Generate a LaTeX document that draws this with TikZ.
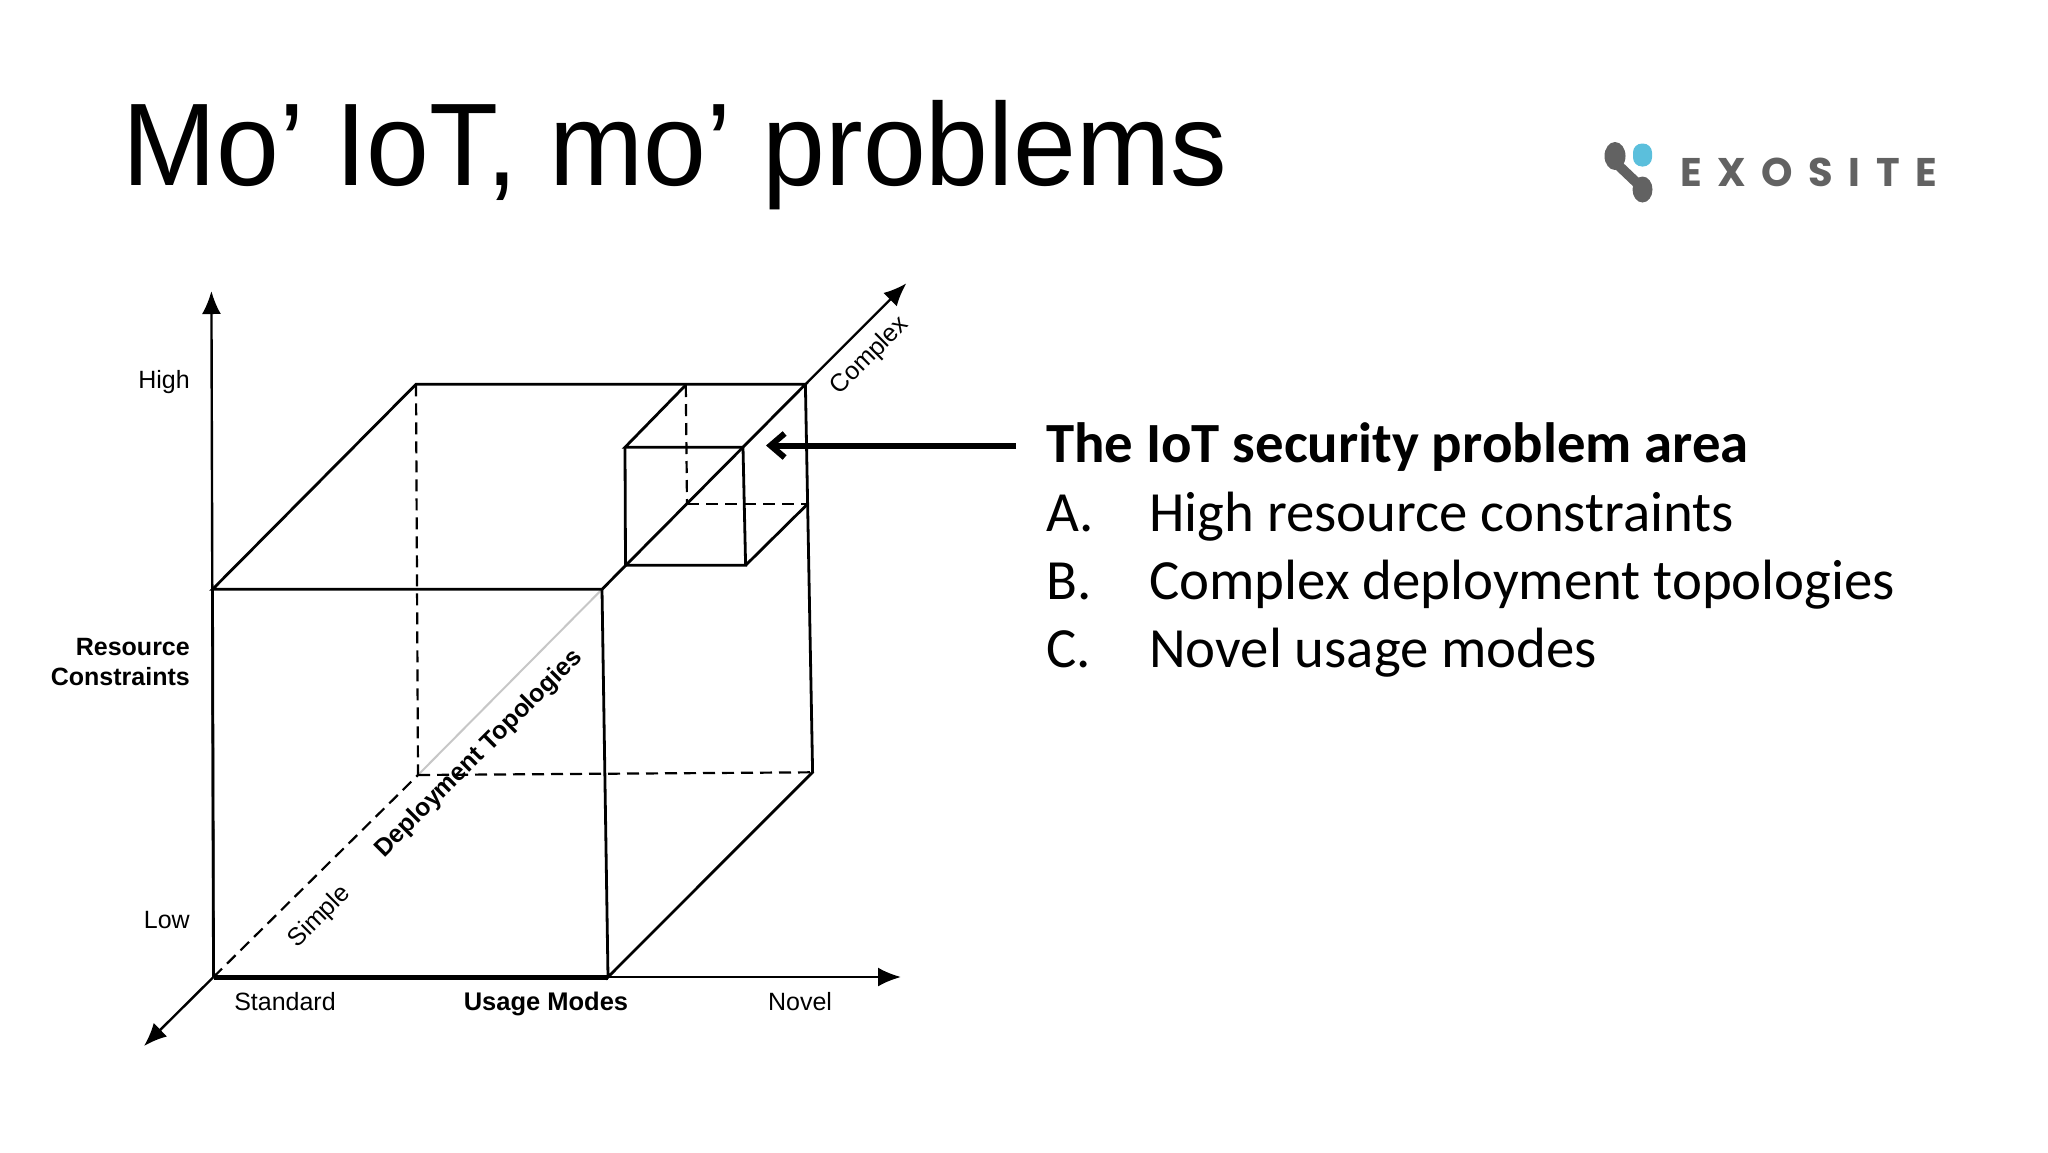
\documentclass[tikz,border=0pt]{standalone}
\usepackage{fontspec}
\usepackage{graphicx}
\usepackage{tikz}
\usetikzlibrary{arrows.meta}
\setmainfont{Liberation Sans}
\newfontfamily\bodyfont{Carlito}
\newfontfamily\logofont[LetterSpace=39]{Poppins}
\definecolor{logogray}{HTML}{626262}
\definecolor{logoblue}{HTML}{5BBFDC}
\tikzset{
    edgeline/.style={draw=black,line width=2.8pt},
    hiddenline/.style={draw=black,line width=2.2pt,dash pattern=on 12pt off 7pt},
    axisline/.style={draw=black,line width=2.4pt,-{Latex[length=23pt,width=19pt]}},
    axislabel/.style={font=\fontsize{25}{30}\selectfont,inner sep=0pt},
    axistitle/.style={font=\fontsize{25}{30}\selectfont\bfseries,inner sep=0pt},
    listlabel/.style={font=\bodyfont\fontsize{56.8}{68}\selectfont,inner sep=0pt,anchor=base west},
}
\begin{document}
\begin{tikzpicture}[x=1pt,y=-1pt]
            \useasboundingbox (0,0) rectangle (2048,1152);

            \node[inner sep=0pt,anchor=base west,font=\fontsize{113}{130}\selectfont] (title) at (122,185.5) {\scalebox{1}[1.04]{Mo’ IoT, mo’ problems}};

            % large cube
            \coordinate (o) at (213.5,977);
            \coordinate (ytop) at (211.4,291);
            \coordinate (xtip) at (901,977);
            \coordinate (ztip) at (144,1046);
            \coordinate (ctip) at (906.4,283.3);
            \coordinate (tfl) at (212.5,589.3);
            \coordinate (tfr) at (602,589.3);
            \coordinate (tbl) at (416,384.3);
            \coordinate (tbr) at (805.4,384.3);
            \coordinate (bfr) at (608,977);
            \coordinate (bbl) at (418,775);
            \coordinate (bbr) at (812.6,772.3);

            % small cube
            \coordinate (stl) at (625,447.3);
            \coordinate (str) at (743,447.3);
            \coordinate (sbl) at (625.5,565.3);
            \coordinate (sbr) at (745.6,565.3);
            \coordinate (sbk) at (685.8,385);
            \coordinate (sdk) at (687,504);
            \coordinate (sdr) at (807.6,504);

            \path [axisline] (o) -- (ytop);
            \path [axisline] (bfr) -- (xtip);
            \path [axisline] (o) -- (ztip);
            \path [axisline] (tbr) -- (ctip);

            \path [hiddenline] (o) -- (bbl);
            \path [draw=black!22,line width=2pt] (bbl) -- (tfr);
            \path [hiddenline] (tbl) -- (bbl);
            \path [hiddenline] (bbl) -- (bbr);

            \path [edgeline] (tfl) -- (tbl) -- (tbr) -- (tfr) -- cycle;
            \path [edgeline] (tfl) -- (o);
            \path [edgeline,line width=5pt] (o) -- (bfr);
            \path [edgeline] (tfr) -- (bfr) -- (bbr) -- (tbr);

            \path [hiddenline] (sbk) -- (sdk);
            \path [hiddenline,line width=2.5pt] (sdk) -- (sdr);
            \path [edgeline] (sbk) -- (stl) -- (str);
            \path [edgeline] (stl) -- (sbl) -- (sbr) -- (str);
            \path [edgeline] (sbr) -- (sdr);

            \node[axislabel,anchor=east] (high) at (190,382) {High};
            \node[axislabel,anchor=east] (low) at (190,920) {Low};
            \node[axistitle,anchor=east,align=right] (resource) at (190,662) {Resource\\Constraints};
            \node[axislabel] (standard) at (285,1002) {Standard};
            \node[axistitle,font=\fontsize{25.5}{30}\selectfont\bfseries] (usage) at (546,1004) {Usage Modes};
            \node[axislabel] (novel) at (800,1002) {Novel};
            \node[axislabel,rotate=45] (simple) at (320,917) {Simple};
            \node[axistitle,rotate=45] (deploy) at (479,754) {Deployment Topologies};
            \node[axislabel,rotate=45] (complex) at (870,356) {Complex};

            % call out
            \node[listlabel,font=\bodyfont\bfseries\fontsize{56.8}{68}\selectfont] (heading) at (1046,462) {The IoT security problem area};
            \node[listlabel] (a) at (1046,531) {A.};
            \node[listlabel] (atext) at (1149,531) {High resource constraints};
            \node[listlabel] (b) at (1046,599.5) {B.};
            \node[listlabel] (btext) at (1149,599.5) {Complex deployment topologies};
            \node[listlabel] (c) at (1046,667.5) {C.};
            \node[listlabel] (ctext) at (1149,667.5) {Novel usage modes};
            \coordinate (arrowstart) at (1016,445.5);
            \coordinate (arrowtip) at (766,445.5);
            \path [draw=black,line width=6pt,-{Straight Barb[length=14pt,width=24pt]}] (arrowstart) -- (arrowtip);

            % logo
            \path [fill=logogray] (1615,156) circle [x radius=10.5,y radius=14];
            \path [fill=logogray] (1642.5,189.5) circle [x radius=10,y radius=13];
            \path [draw=logogray,line width=10pt] (1618,165) -- (1638,184);
            \node[draw=none,fill=logoblue,rounded corners=9pt,minimum width=19pt,minimum height=23pt,inner sep=0pt] (logodot) at (1642.5,155) {};
            \node[inner sep=0pt,anchor=base west,text=logogray,font=\logofont\bfseries\fontsize{40}{48}\selectfont] (logotext) at (1680,186) {EXOSITE};
        \end{tikzpicture}
\end{document}
